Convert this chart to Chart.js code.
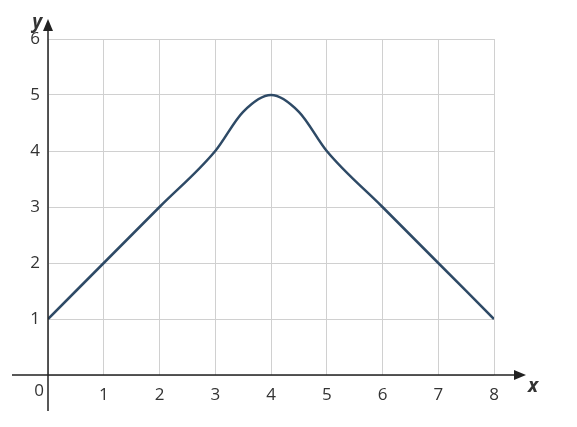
<!DOCTYPE html>
<html>
<head>
<meta charset="utf-8">
<script src="https://cdn.jsdelivr.net/npm/chart.js@4/dist/chart.umd.min.js"></script>
<style>
	html, body { margin: 0; padding: 0; background: #fff; }
	#wrap { width: 577px; height: 427px; }
</style>
</head>
<body>
<div id="wrap"><canvas id="chart"></canvas></div>
<script>
const xValues = [0, 1, 2, 3, 3.5, 4, 4.5, 5, 6, 7, 8]
const yValues = [1, 2, 3, 4, 4.7, 5, 4.7, 4, 3, 2, 1]
const xTicks = [1, 2, 3, 4, 5, 6, 7, 8]
const yTicks = [1, 2, 3, 4, 5, 6]

const axesPlugin = {
	id: "axes",
	afterDraw(chart) {
		const { ctx, scales } = chart
		const x0 = scales.x.getPixelForValue(0)
		const y0 = scales.y.getPixelForValue(0)
		const xEnd = scales.x.getPixelForValue(8) + 24
		const yTop = scales.y.getPixelForValue(6) - 12
		ctx.save()
		ctx.strokeStyle = "#222"
		ctx.fillStyle = "#222"
		ctx.lineWidth = 1.5
		ctx.beginPath()
		ctx.moveTo(x0 - 36, y0); ctx.lineTo(xEnd, y0)
		ctx.moveTo(x0, y0 + 36); ctx.lineTo(x0, yTop)
		ctx.stroke()
		ctx.beginPath()
		ctx.moveTo(xEnd + 8, y0); ctx.lineTo(xEnd - 4, y0 - 5); ctx.lineTo(xEnd - 4, y0 + 5)
		ctx.closePath(); ctx.fill()
		ctx.beginPath()
		ctx.moveTo(x0, yTop - 8); ctx.lineTo(x0 - 5, yTop + 4); ctx.lineTo(x0 + 5, yTop + 4)
		ctx.closePath(); ctx.fill()

		ctx.fillStyle = "#333"
		ctx.font = "17px 'Open Sans', sans-serif"
		ctx.textAlign = "center"
		ctx.textBaseline = "top"
		xTicks.forEach((t) => ctx.fillText(String(t), scales.x.getPixelForValue(t), y0 + 12))
		ctx.textAlign = "right"
		ctx.textBaseline = "middle"
		yTicks.forEach((t) => ctx.fillText(String(t), x0 - 8, scales.y.getPixelForValue(t)))
		ctx.textBaseline = "top"
		ctx.fillText("0", x0 - 4, y0 + 8)
		ctx.font = "italic bold 19px 'Open Sans', sans-serif"
		ctx.textAlign = "left"
		ctx.textBaseline = "middle"
		ctx.fillText("x", xEnd + 10, y0 + 12)
		ctx.textAlign = "right"
		ctx.fillText("y", x0 - 6, yTop - 4)
		ctx.restore()
	},
}

new Chart(document.getElementById("chart"), {
	type: "line",
	data: {
		datasets: [{
			data: xValues.map((x, i) => ({ x, y: yValues[i] })),
			borderColor: "#2e4a66",
			borderWidth: 2.5,
			pointRadius: 0,
			cubicInterpolationMode: "monotone",
			fill: false,
		}],
	},
	options: {
		responsive: true,
		maintainAspectRatio: false,
		animation: false,
		layout: { padding: { left: 48, right: 83, top: 39, bottom: 52 } },
		plugins: { legend: { display: false }, tooltip: { enabled: false } },
		scales: {
			x: {
				type: "linear", min: 0, max: 8,
				ticks: { display: false, stepSize: 1 },
				grid: { color: "#d0d0d0", drawTicks: false },
				border: { display: false },
			},
			y: {
				type: "linear", min: 0, max: 6,
				ticks: { display: false, stepSize: 1 },
				grid: { color: "#d0d0d0", drawTicks: false },
				border: { display: false },
			},
		},
	},
	plugins: [axesPlugin],
})
</script>
</body>
</html>
